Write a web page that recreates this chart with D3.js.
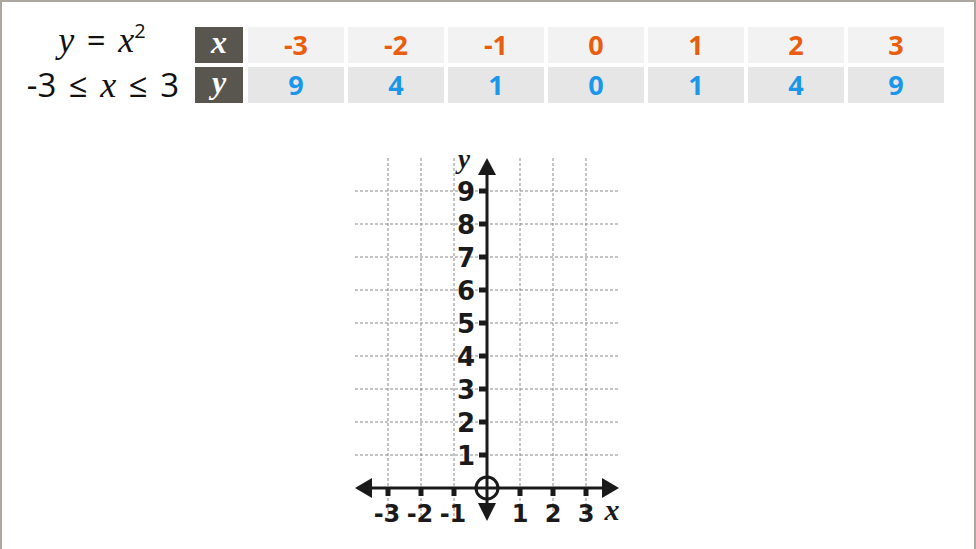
<!DOCTYPE html>
<html><head><meta charset="utf-8">
<script src="https://cdn.jsdelivr.net/npm/d3@7/dist/d3.min.js"></script>
<style>
html,body{margin:0;padding:0;background:#fff;}
svg{display:block;}
</style></head>
<body>
<script>
// ---- data ----
const xValues = [-3, -2, -1, 0, 1, 2, 3];
const yValues = [9, 4, 1, 0, 1, 4, 9];
const xTicks = [-3, -2, -1, 1, 2, 3];
const yTicks = [1, 2, 3, 4, 5, 6, 7, 8, 9];
const rowNames = ["x", "y"];

const W = 976, H = 549;
const svg = d3.select("body").append("svg").attr("width", W).attr("height", H);

// frame
svg.append("rect").attr("x", 0).attr("y", 0).attr("width", W).attr("height", H).attr("fill", "#fff");
svg.append("rect").attr("x", 0).attr("y", 0).attr("width", W).attr("height", 2).attr("fill", "#aba69e");
svg.append("rect").attr("x", 0).attr("y", 0).attr("width", 2).attr("height", H).attr("fill", "#aba69e");
svg.append("rect").attr("x", 974).attr("y", 0).attr("width", 2).attr("height", H).attr("fill", "#aba69e");

const sans = "'Open Sans', 'Noto Sans', sans-serif";
const tickFont = "'DejaVu Sans', 'Open Sans', sans-serif";
const serif = "'Liberation Serif', 'DejaVu Serif', serif";

// ---- left equation labels ----
const eq = svg.append("text").attr("x", 102).attr("y", 52).attr("text-anchor", "middle")
  .attr("font-family", sans).attr("font-size", 33).attr("word-spacing", 4).attr("fill", "#111");
eq.append("tspan").attr("font-family", serif).attr("font-style", "italic").attr("font-size", 36).text("y");
eq.append("tspan").text(" = ");
eq.append("tspan").attr("font-family", serif).attr("font-style", "italic").attr("font-size", 36).text("x");
eq.append("tspan").attr("font-size", 20).attr("dy", -14).text("2");

const rng = svg.append("text").attr("x", 103).attr("y", 97).attr("text-anchor", "middle")
  .attr("font-family", sans).attr("font-size", 33).attr("word-spacing", 4).attr("fill", "#111");
rng.append("tspan").text("-3 ≤ ");
rng.append("tspan").attr("font-family", serif).attr("font-style", "italic").attr("font-size", 36).text("x");
rng.append("tspan").text(" ≤ 3");

// ---- table ----
const colX = d3.scaleBand().domain(d3.range(xValues.length)).range([248, 944]).paddingInner(0.04).paddingOuter(0);
const rowY = d3.scaleBand().domain(rowNames).range([27, 103]).paddingInner(0.1);
const rowFill = {x: "#f2f2f2", y: "#e6e6e6"};
const rowColor = {x: "#e85e0e", y: "#1b97ea"};
const rowData = {x: xValues, y: yValues};

rowNames.forEach(r => {
  svg.append("rect").attr("x", 195).attr("y", rowY(r)).attr("width", 48).attr("height", rowY.bandwidth()).attr("fill", "#59554f");
  svg.append("text").attr("x", 219).attr("y", rowY(r) + rowY.bandwidth() / 2 + 8)
    .attr("text-anchor", "middle").attr("font-family", serif).attr("font-style", "italic").attr("font-weight", "bold")
    .attr("font-size", 32).attr("fill", "#fff").text(r);
  const g = svg.append("g");
  g.selectAll("rect").data(rowData[r]).join("rect")
    .attr("x", (d, i) => colX(i)).attr("y", rowY(r)).attr("width", colX.bandwidth()).attr("height", rowY.bandwidth())
    .attr("fill", rowFill[r]);
  g.selectAll("text").data(rowData[r]).join("text")
    .attr("x", (d, i) => colX(i) + colX.bandwidth() / 2).attr("y", rowY(r) + rowY.bandwidth() / 2 + 9.5)
    .attr("text-anchor", "middle").attr("font-family", sans).attr("font-weight", "bold").attr("font-size", 27)
    .attr("fill", rowColor[r]).text(d => d);
});

// ---- graph ----
const x = d3.scaleLinear().domain([-4, 4]).range([355, 619]);
const y = d3.scaleLinear().domain([0, 10]).range([488, 158]);

const grid = svg.append("g").attr("stroke", "#8a8a8a").attr("stroke-width", 1).attr("stroke-dasharray", "3,2");
grid.selectAll("line.v").data(xTicks).join("line").attr("class", "v")
  .attr("x1", d => x(d)).attr("x2", d => x(d)).attr("y1", y(10)).attr("y2", y(-1));
grid.selectAll("line.h").data(yTicks).join("line").attr("class", "h")
  .attr("x1", x(-4)).attr("x2", x(4)).attr("y1", d => y(d)).attr("y2", d => y(d));

const ax = svg.append("g").attr("fill", "#1a1a1a").attr("stroke", "none");
const x0 = x(0), y0 = y(0);
// axes lines
svg.append("line").attr("x1", x(-4) + 10).attr("x2", x(4) - 10).attr("y1", y0).attr("y2", y0).attr("stroke", "#1a1a1a").attr("stroke-width", 3);
svg.append("line").attr("x1", x0).attr("x2", x0).attr("y1", y(10) + 10).attr("y2", y(-1) - 10).attr("stroke", "#1a1a1a").attr("stroke-width", 3);
// arrowheads
const L = x(-4), R = x(4), T = y(10), B = y(-1);
ax.append("path").attr("d", `M${L},${y0} L${L + 17},${y0 - 10} L${L + 17},${y0 + 10} Z`);
ax.append("path").attr("d", `M${R},${y0} L${R - 17},${y0 - 10} L${R - 17},${y0 + 10} Z`);
ax.append("path").attr("d", `M${x0},${T} L${x0 - 9},${T + 17} L${x0 + 9},${T + 17} Z`);
ax.append("path").attr("d", `M${x0},${B} L${x0 - 9},${B - 18} L${x0 + 9},${B - 18} Z`);
// ticks
ax.selectAll("rect.xt").data(xTicks).join("rect").attr("class", "xt")
  .attr("x", d => x(d) - 2.5).attr("y", y0).attr("width", 5).attr("height", 8);
ax.selectAll("rect.yt").data(yTicks).join("rect").attr("class", "yt")
  .attr("x", x0 - 8).attr("y", d => y(d) - 2.5).attr("width", 8).attr("height", 5);
// origin circle
svg.append("circle").attr("cx", x0).attr("cy", y0).attr("r", 11).attr("fill", "none").attr("stroke", "#1a1a1a").attr("stroke-width", 3);

// tick labels
svg.append("g").selectAll("text").data(xTicks).join("text")
  .attr("x", d => x(d) - (d < 0 ? 1 : 0)).attr("y", 522).attr("text-anchor", "middle")
  .attr("font-family", tickFont).attr("font-weight", "bold").attr("font-size", 24).attr("fill", "#1a1a1a").text(d => d);
svg.append("g").selectAll("text").data(yTicks).join("text")
  .attr("x", 475).attr("y", d => y(d) + 9.5).attr("text-anchor", "end")
  .attr("font-family", tickFont).attr("font-weight", "bold").attr("font-size", 26).attr("fill", "#1a1a1a").text(d => d);

// axis names
svg.append("text").attr("x", 612).attr("y", 520).attr("text-anchor", "middle")
  .attr("font-family", serif).attr("font-style", "italic").attr("font-weight", "bold").attr("font-size", 30).attr("fill", "#1a1a1a").text("x");
svg.append("text").attr("x", 464).attr("y", 168).attr("text-anchor", "middle")
  .attr("font-family", serif).attr("font-style", "italic").attr("font-weight", "bold").attr("font-size", 27).attr("fill", "#1a1a1a").text("y");
</script>
</body></html>
